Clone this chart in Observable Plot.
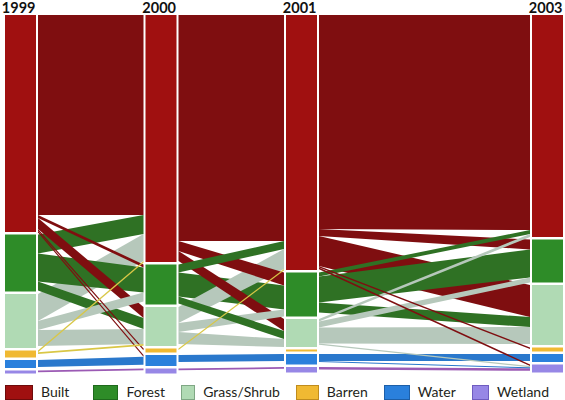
<!DOCTYPE html>
<html><head><meta charset="utf-8">
<script src="https://cdn.jsdelivr.net/npm/d3@7"></script>
<script src="https://cdn.jsdelivr.net/npm/@observablehq/plot@0.6"></script>
<style>
body{margin:0;background:#fff;font-family:Lato,sans-serif;width:565px;height:400px;overflow:hidden;}
#legend{display:flex;padding:6px 0 0 5px;height:16px;}
.item{display:flex;align-items:center;min-width:72px;padding-right:16px;font-size:14px;color:#231f20;line-height:16px;}
.sw{box-sizing:border-box;width:28px;height:15px;border:1px solid;margin-right:8px;}
</style></head><body><div id="chart"></div><div id="legend"></div>
<script>
// ---- data ----
const years = [1999, 2000, 2001, 2003];
const classes = ["Built", "Forest", "Grass/Shrub", "Barren", "Water", "Wetland"];
const cover1999 = [217, 57, 54, 7, 8, 3];
const cover2000 = [247, 40, 39, 4, 11, 5];
const cover2001 = [255, 44, 28, 2, 10.5, 5.5];
const cover2003 = [222, 43, 60, 4, 8, 8];
// [from, to, width leaving, width arriving]
const flows1999to2000 = [
  ["Built", "Built", 200, 200],
  ["Built", "Forest", 3, 3],
  ["Built", "Grass/Shrub", 11, 11],
  ["Built", "Barren", 1.8, 1.8],
  ["Built", "Water", 1.8, 1.8],
  ["Forest", "Built", 19, 19],
  ["Forest", "Forest", 28, 25],
  ["Forest", "Grass/Shrub", 9, 11],
  ["Grass/Shrub", "Built", 27, 27],
  ["Grass/Shrub", "Forest", 9, 9],
  ["Grass/Shrub", "Grass/Shrub", 16, 15],
  ["Barren", "Built", 1.7, 1.7],
  ["Barren", "Grass/Shrub", 1.7, 1.7],
  ["Water", "Water", 7, 8],
  ["Wetland", "Wetland", 1.8, 1.8]
];
const flows2000to2001 = [
  ["Built", "Built", 226, 226],
  ["Built", "Forest", 10, 13],
  ["Built", "Grass/Shrub", 10, 12],
  ["Forest", "Built", 8, 8],
  ["Forest", "Forest", 24, 24],
  ["Forest", "Grass/Shrub", 7, 8],
  ["Grass/Shrub", "Built", 16, 20],
  ["Grass/Shrub", "Forest", 9, 7],
  ["Grass/Shrub", "Grass/Shrub", 12, 8],
  ["Barren", "Built", 1.5, 1.5],
  ["Water", "Water", 7, 7],
  ["Wetland", "Wetland", 1.8, 1.8]
];
const flows2001to2003 = [
  ["Built", "Built", 214, 215],
  ["Built", "Forest", 7, 10],
  ["Built", "Grass/Shrub", 30, 32],
  ["Built", "Barren", 1.6, 1.6],
  ["Built", "Wetland", 1.6, 1.6],
  ["Forest", "Built", 4, 4],
  ["Forest", "Forest", 26, 28],
  ["Forest", "Grass/Shrub", 10, 10],
  ["Grass/Shrub", "Built", 2.5, 3],
  ["Grass/Shrub", "Forest", 6, 5],
  ["Grass/Shrub", "Grass/Shrub", 16, 17],
  ["Grass/Shrub", "Wetland", 1.2, 1.2],
  ["Water", "Water", 7, 7],
  ["Water", "Wetland", 1, 1],
  ["Wetland", "Wetland", 2.5, 2.5]
];

// ---- styles ----
const barColor = {"Built": "#a01010", "Forest": "#2e8c28", "Grass/Shrub": "#b0dab4", "Barren": "#f0b932", "Water": "#2a80dc", "Wetland": "#9787e6"};
const flowColor = {"Built": "#7f0e10", "Forest": "#2f7124", "Grass/Shrub": "#b6c8bb", "Barren": "#d9c746", "Water": "#2a78cc", "Wetland": "#9b5ab4"};
const swatchBorder = {"Built": "#6e0b0b", "Forest": "#1f6a1c", "Grass/Shrub": "#7fa784", "Barren": "#c08c1d", "Water": "#1d5fa8", "Wetland": "#6f5cc0"};

// ---- layout (x in "years of change" units, y in area units) ----
const GAP = 2.5;
const perYear = 105.5;
const bw = 31 / perYear, gx = 2 / perYear, slot = bw + 2 * gx;
const covers = [cover1999, cover2000, cover2001, cover2003];
const transitions = [flows1999to2000, flows2000to2001, flows2001to2003];
const left = years.map((y, i) => (y - years[0]) + i * slot);
const tops = covers.map(c => { let acc = 0; return c.map(v => { const t = acc; acc += v + GAP; return t; }); });
const colHeight = d3.max(covers, c => d3.sum(c) + GAP * (c.length - 1));

const bars = [];
covers.forEach((c, i) => c.forEach((v, k) => bars.push({cls: classes[k], x1: left[i], x2: left[i] + bw, y1: tops[i][k], y2: tops[i][k] + v})));

const ribbons = [];
transitions.forEach((fl, t) => {
  const recs = fl.map(([from, to, sv, tv]) => ({from, to, sv, tv, fi: classes.indexOf(from), ti: classes.indexOf(to)}));
  const so = tops[t].slice(), tt = tops[t + 1].slice();
  [...recs].sort((a, b) => a.fi - b.fi || a.ti - b.ti).forEach(r => { r.s0 = so[r.fi]; so[r.fi] += r.sv; r.s1 = so[r.fi]; });
  [...recs].sort((a, b) => a.ti - b.ti || a.fi - b.fi).forEach(r => { r.t0 = tt[r.ti]; tt[r.ti] += r.tv; r.t1 = tt[r.ti]; });
  recs.sort((a, b) => (b.sv + b.tv) - (a.sv + a.tv)).forEach((r, j) => {
    const id = t + "-" + j;
    ribbons.push({id, cls: r.from, x: left[t] + bw + gx, y1: r.s0, y2: r.s1});
    ribbons.push({id, cls: r.from, x: left[t + 1] - gx, y1: r.t0, y2: r.t1});
  });
});

const chart = Plot.plot({
  width: 565,
  height: 378,
  margin: 0,
  style: {background: "white", overflow: "visible"},
  x: {domain: [0, left[left.length - 1] + bw], range: [5, 563], axis: null},
  y: {domain: [0, colHeight], range: [15, 373.5], axis: null},
  color: {type: "identity"},
  marks: [
    Plot.areaY(ribbons, {x: "x", y1: "y1", y2: "y2", z: "id", fill: d => flowColor[d.cls], curve: "linear"}),
    Plot.rect(bars, {x1: "x1", x2: "x2", y1: "y1", y2: "y2", fill: d => barColor[d.cls]}),
    Plot.text(years, {x: (d, i) => left[i] + bw, y: 0, text: d => String(d), textAnchor: "end", lineAnchor: "bottom",
      dy: -2.5, dx: -1, fontSize: 14.5, fontWeight: "bold", fontFamily: "Lato", fill: "#111"})
  ]
});
document.getElementById("chart").appendChild(chart);

const legend = document.getElementById("legend");
classes.forEach(c => {
  const it = document.createElement("div");
  it.className = "item";
  const sw = document.createElement("span");
  sw.className = "sw";
  sw.style.background = barColor[c];
  sw.style.borderColor = swatchBorder[c];
  it.appendChild(sw);
  it.appendChild(document.createTextNode(c));
  legend.appendChild(it);
});
</script>
</body></html>
